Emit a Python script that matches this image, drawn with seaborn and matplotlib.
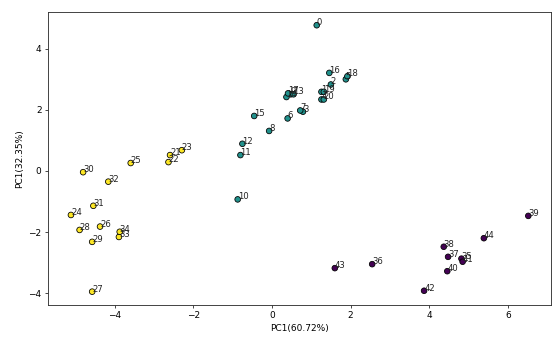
import matplotlib
matplotlib.use("Agg")
import matplotlib.pyplot as plt
import seaborn as sns
import pandas as pd

# Sample ids 0..44
ids = list(range(45))
pc1 = [1.14, 1.26, 1.50, 0.79, 1.26, 1.88, 0.40, 0.72, -0.07, 0.48,
       -0.87, -0.80, -0.75, 0.55, 0.37, -0.45, 1.46, 0.41, 1.92, 1.32,
       1.32,
       -2.59, -2.63, -2.29, -5.11, -3.59, -4.37, -4.57, -4.89, -4.57,
       -4.80, -4.54, -4.16, -3.89, -3.87,
       4.82, 2.55, 4.48, 4.37, 6.52, 4.46, 4.85, 3.87, 1.60, 5.39]
pc2 = [4.77, 2.59, 2.83, 1.94, 2.34, 3.00, 1.72, 1.98, 1.31, 2.51,
       -0.93, 0.52, 0.89, 2.51, 2.42, 1.80, 3.21, 2.54, 3.10, 2.59,
       2.34,
       0.52, 0.29, 0.68, -1.44, 0.26, -1.82, -3.95, -1.93, -2.32,
       -0.04, -1.14, -0.35, -2.16, -1.99,
       -2.87, -3.05, -2.81, -2.48, -1.47, -3.28, -2.97, -3.92, -3.18, -2.20]
cluster = [1] * 21 + [2] * 14 + [0] * 10

df = pd.DataFrame({"id": ids, "pc1": pc1, "pc2": pc2, "cluster": cluster})

fig, ax = plt.subplots(figsize=(559 / 72, 340 / 72), dpi=72)
fig.subplots_adjust(left=0.086, right=0.986, top=0.965, bottom=0.103)

sns.scatterplot(data=df, x="pc1", y="pc2", hue="cluster", palette="viridis",
                edgecolor="black", linewidth=0.8, s=32, legend=False, ax=ax)

for i, x, y in zip(df["id"], df["pc1"], df["pc2"]):
    ax.annotate(str(i), (x, y), fontsize=8.5, color="#222222")

ax.set_xlabel("PC1(60.72%)", fontsize=9)
ax.set_ylabel("PC1(32.35%)", fontsize=9)
ax.tick_params(labelsize=9, length=3, width=0.7)
for sp in ax.spines.values():
    sp.set_linewidth(0.9)
    sp.set_color("#333333")
ax.margins(0.05)

fig.savefig("out.png", dpi=72)
